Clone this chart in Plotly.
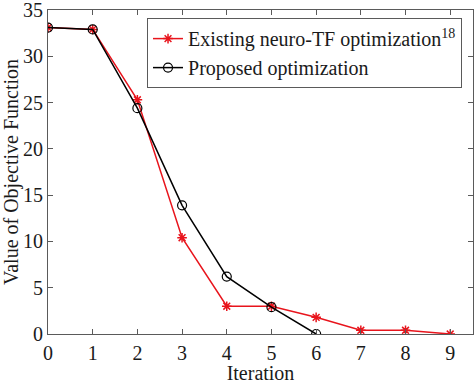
import plotly.graph_objects as go

iter_red = [0, 1, 2, 3, 4, 5, 6, 7, 8, 9]
val_red = [33.1, 32.9, 25.3, 10.4, 3.0, 3.0, 1.8, 0.4, 0.4, 0.0]
iter_blk = [0, 1, 2, 3, 4, 5, 6]
val_blk = [33.1, 32.9, 24.4, 13.9, 6.2, 2.9, 0.0]
y_ticks = [0, 5, 10, 15, 20, 25, 30, 35]

name_red = "Existing neuro-TF optimization<sup>18</sup>"
name_blk = "Proposed optimization"

FONT = "Liberation Serif, Times New Roman, serif"
AX = "#5a5a5a"
TXT = "#1a1a1a"

fig = go.Figure()
fig.add_trace(go.Scatter(x=iter_red, y=val_red, name=name_red, mode="lines+markers",
                         line=dict(color="#e8141c", width=1.5),
                         marker=dict(symbol="asterisk", size=8, color="#e8141c",
                                     line=dict(color="#e8141c", width=1.5))))
fig.add_trace(go.Scatter(x=iter_blk, y=val_blk, name=name_blk, mode="lines+markers",
                         line=dict(color="black", width=1.5),
                         marker=dict(symbol="circle-open", size=9, color="black",
                                     line=dict(color="black", width=1.2))))

axis_common = dict(showgrid=False, zeroline=False, showline=True, linecolor=AX, linewidth=1,
                   mirror="ticks", ticks="inside", ticklen=5, tickcolor=AX,
                   ticklabeloverflow="allow",
                   tickfont=dict(family=FONT, size=20, color=TXT))
fig.update_xaxes(range=[0, 9.51], tickvals=iter_red, ticklabelstandoff=1,
                 title=dict(text="Iteration", font=dict(family=FONT, size=20, color=TXT), standoff=7),
                 **axis_common)
fig.update_yaxes(range=[0, 35], tickvals=y_ticks,
                 title=dict(text="Value of Objective Function", font=dict(family=FONT, size=20, color=TXT), standoff=2),
                 **axis_common)
fig.update_layout(width=474, height=384, margin=dict(l=48, r=1, t=10, b=50, autoexpand=False),
                  plot_bgcolor="white", paper_bgcolor="white",
                  font=dict(family=FONT, color=TXT),
                  legend=dict(x=0.233, y=0.975, xanchor="left", yanchor="top",
                              bordercolor=AX, borderwidth=1, bgcolor="white",
                              font=dict(family=FONT, size=20, color=TXT),
                              tracegroupgap=0, itemwidth=30))
fig.write_html("out.html", config={"displayModeBar": False},
               post_script="document.body.style.margin='0';document.body.style.overflow='hidden';")
